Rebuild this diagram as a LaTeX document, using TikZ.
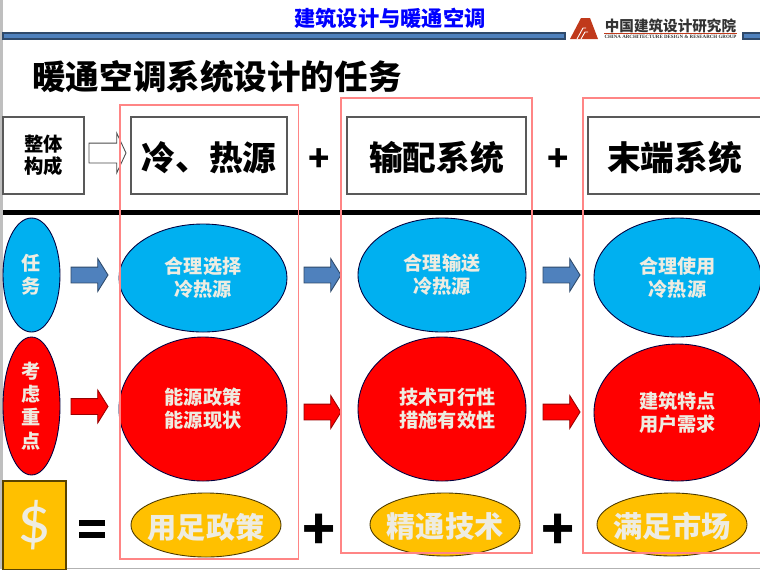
\documentclass[tikz,border=0pt]{standalone}
\usepackage{fontspec}
\usepackage{graphicx}
\setmainfont{Noto Sans CJK SC}
\newfontfamily\dollarfont{Carlito}
\newfontfamily\logofont{Liberation Serif}
\usetikzlibrary{shapes.geometric,shapes.arrows}
\definecolor{barblue}{HTML}{4F81BD}
\definecolor{bardark}{HTML}{2F4A6B}
\definecolor{skyfill}{HTML}{00B0F0}
\definecolor{goldfill}{HTML}{FFC000}
\definecolor{paletext}{HTML}{EEECE1}
\definecolor{framered}{HTML}{FF8585}
\definecolor{logored}{HTML}{C0391B}
\def\pxu{0.02cm}
\newcommand{\goldtext}[1]{\makebox[0pt]{\raisebox{-1.1pt}[\height][\depth]{#1}}}
\newcommand{\boxtext}[1]{\raisebox{-1.1pt}[\height][\depth]{#1}}
\tikzset{
  bigbox/.style={draw=black!65,line width=0.6pt,fill=white,inner sep=0,outer sep=0,font=\fontsize{19.2}{23}\selectfont\bfseries},
  smallbox/.style={bigbox,font=\fontsize{11}{12.8}\selectfont\bfseries,align=center},
  oval/.style={ellipse,draw=black!75!blue,line width=0.5pt,inner sep=0,outer sep=0,text=paletext,align=center,font=\fontsize{10.9}{13.2}\selectfont\bfseries},
  blueoval/.style={oval,fill=skyfill},
  redoval/.style={oval,fill=red},
  goldoval/.style={oval,fill=goldfill,draw=black!70!goldfill,font=\fontsize{16.6}{20}\selectfont\bfseries},
  blockarrow/.style={single arrow,anchor=west,inner xsep=0,inner ysep=0.15cm,outer sep=0,line width=0.5pt,minimum height=37*\pxu,single arrow head extend=0.17cm,single arrow tip angle=116},
  bluearrow/.style={blockarrow,fill=barblue,draw=bardark},
  redarrow/.style={blockarrow,fill=red,draw=red!60!black},
  frame/.style={draw=framered,line width=0.8pt},
  plus/.style={font=\fontsize{20}{20}\selectfont\bfseries},
  bigplus/.style={font=\fontsize{31}{31}\selectfont\bfseries}
}
\begin{document}
\begin{tikzpicture}[x=\pxu,y=-\pxu]
\useasboundingbox (0,0) rectangle (760,569);
\fill [white] (0,0) rectangle (760,569);
\fill [black!25] (0,0) rectangle (3,569);
\fill [black!30] (3,568) rectangle (760,569);

% header
\node (header) at (390,18) {\fontsize{12.1}{14}\selectfont\bfseries\color{blue}建筑设计与暖通空调};
\draw [fill=barblue,draw=bardark,line width=0.7pt] (3,33)--(565,33)--(565,39)--(3,39)--cycle;
\draw [fill=barblue,draw=bardark,line width=0.7pt] (743,33)--(762,33)--(762,39)--(743,39)--cycle;
\fill [logored] (570,39)--(581,18)--(590,18)--(598,39)--cycle;
\draw [white,line width=0.5pt] (577,39)--(583,28)--(586,28);
\draw [white,line width=0.5pt] (581,39)--(585,32)--(588,32);
\node (logotext) at (670.5,26) {\fontsize{8.3}{9}\selectfont\bfseries\color{black!80}中国建筑设计研究院};
\draw [logored,line width=0.6pt] (604,33.5)--(737,33.5);
\node (logosub) at (670.5,37) {\resizebox{2.64cm}{!}{\logofont\bfseries\color{black!80}CHINA ARCHITECTURE DESIGN \& RESEARCH GROUP}};

\node (title) at (217,77) {\fontsize{19.1}{23}\selectfont\bfseries 暖通空调系统设计的任务};

% top row
\node [smallbox,minimum width=81*\pxu,minimum height=77*\pxu] (whole) at (43.5,155.5) {整体\\构成};
\node [bigbox,minimum width=156*\pxu,minimum height=77*\pxu] (cold) at (209,155.5) {\boxtext{冷、热源}};
\node [bigbox,minimum width=179*\pxu,minimum height=77*\pxu] (duct) at (436.5,155.5) {\boxtext{输配系统}};
\node [bigbox,minimum width=180*\pxu,minimum height=77*\pxu,text width=3.52cm,align=left] (term) at (678,155.5) {\hspace{0.34cm}\boxtext{末端系统}};
\node [single arrow,anchor=west,draw=black!70,fill=white,line width=0.5pt,inner xsep=0,inner ysep=0.19cm,outer sep=0,minimum height=37*\pxu,single arrow head extend=0.2cm,single arrow tip angle=130] (hollow) at (89,153) {};
\node [plus] (plusa) at (319,160) {+};
\node [plus] (plusb) at (558,160) {+};
\fill [black] (3,210) rectangle (760,215);

% task row
\node [blueoval,minimum width=57*\pxu,minimum height=114*\pxu] (task) at (31.5,275) {任\\务};
\node [blueoval,minimum width=168*\pxu,minimum height=108*\pxu] (taska) at (203,278) {合理选择\\冷热源};
\node [blueoval,minimum width=168*\pxu,minimum height=114*\pxu] (taskb) at (442,275) {合理输送\\冷热源};
\node [blueoval,minimum width=167*\pxu,minimum height=119*\pxu] (taskc) at (677.5,277.5) {合理使用\\冷热源};
\node [bluearrow] (arra) at (71,275) {};
\node [bluearrow] (arrb) at (304,275) {};
\node [bluearrow] (arrc) at (543,275) {};

% focus row
\node [redoval,minimum width=57*\pxu,minimum height=138*\pxu] (focus) at (31.5,406) {考\\虑\\重\\点};
\node [redoval,minimum width=168*\pxu,minimum height=144*\pxu] (focusa) at (203,409) {能源政策\\能源现状};
\node [redoval,minimum width=168*\pxu,minimum height=144*\pxu] (focusb) at (442,409) {\hspace{0.22cm}技术可行性\\\hspace{0.22cm}措施有效性};
\node [redoval,minimum width=167*\pxu,minimum height=137*\pxu] (focusc) at (677.5,412.5) {建筑特点\\用户需求};
\node [redarrow] (arrd) at (71,406.5) {};
\node [redarrow] (arre) at (304,412) {};
\node [redarrow] (arrf) at (543,412) {};

% bottom row
\draw [fill=goldfill,draw=black!65!goldfill,line width=0.6pt] (3,481) rectangle (66,570);
\node [text=paletext] (dollar) at (34,525) {\dollarfont\fontsize{38}{40}\selectfont\$};
\fill [black] (79,520) rectangle (105,526);
\fill [black] (79,532) rectangle (105,538);
\node [goldoval,minimum width=150*\pxu,minimum height=64*\pxu] (golda) at (206,525) {\goldtext{用足政策}};
\node [goldoval,minimum width=150*\pxu,minimum height=63*\pxu] (goldb) at (445,524.5) {\goldtext{精通技术}};
\node [goldoval,minimum width=150*\pxu,minimum height=63*\pxu] (goldc) at (672,524.5) {\goldtext{满足市场}};
\node [bigplus] (plusc) at (319,532) {+};
\node [bigplus] (plusd) at (558,532) {+};

% red frames on top
\draw [frame] (120,105) rectangle (298.5,559);
\draw [frame] (341,98) rectangle (532,553);
\draw [frame] (583,98) rectangle (772,553);
\end{tikzpicture}
\end{document}
